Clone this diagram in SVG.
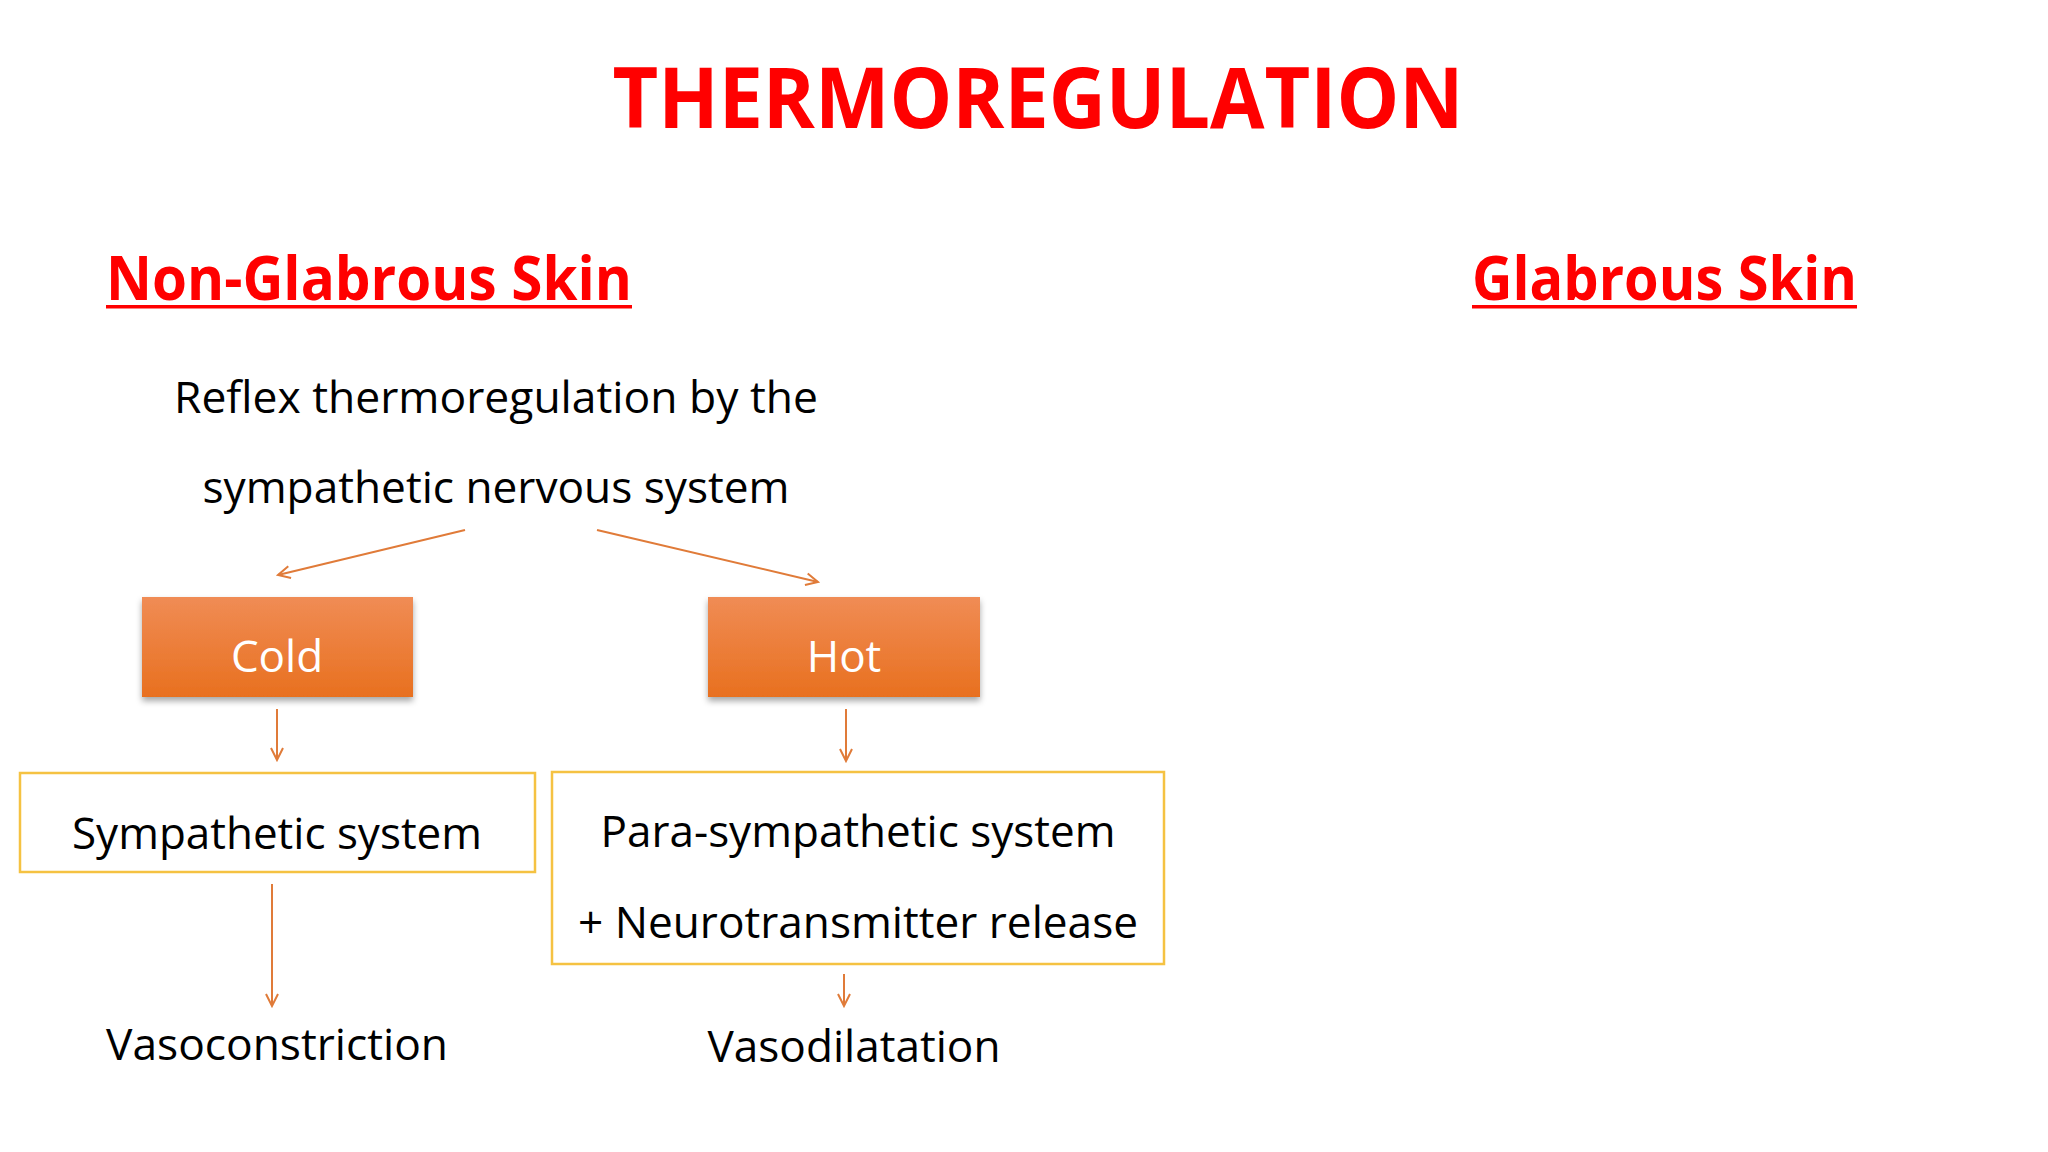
<svg xmlns="http://www.w3.org/2000/svg" width="2048" height="1152" viewBox="0 0 2048 1152">
<defs>
<linearGradient id="og" x1="0" y1="0" x2="0" y2="1"><stop offset="0" stop-color="#F08C55"/><stop offset="1" stop-color="#E8701F"/></linearGradient>
<filter id="sh" x="-10%" y="-10%" width="120%" height="130%"><feDropShadow dx="0" dy="4" stdDeviation="3" flood-color="#000" flood-opacity="0.35"/></filter>
<marker id="ah" markerWidth="16" markerHeight="16" refX="14" refY="8" orient="auto" markerUnits="userSpaceOnUse"><path d="M2,2 L14,8 L2,14" fill="none" stroke="#E07B39" stroke-width="2"/></marker>
</defs>
<style>
text{font-family:"Open Sans","Liberation Sans",sans-serif}
.h{fill:#FF0000;font-weight:bold}
.t{fill:#000;font-size:44px;text-anchor:middle}
.w{fill:#fff;font-size:44px;text-anchor:middle}
.c{stroke:#E07B39;stroke-width:2;fill:none;marker-end:url(#ah)}
.yb{fill:#fff;stroke:#F5C242;stroke-width:2.5}
</style>
<rect width="2048" height="1152" fill="#fff"/>
<g id="title"><text class="h" x="1038" y="128" font-size="84" text-anchor="middle" textLength="851" lengthAdjust="spacingAndGlyphs">THERMOREGULATION</text></g>
<g id="nonglabrous"><text class="h" x="106" y="300" font-size="60" textLength="526" lengthAdjust="spacingAndGlyphs">Non-Glabrous Skin</text><rect x="106" y="305" width="526" height="3.5" fill="#FF0000"/></g>
<g id="glabrous"><text class="h" x="1472" y="300" font-size="60" textLength="385" lengthAdjust="spacingAndGlyphs">Glabrous Skin</text><rect x="1472" y="305" width="385" height="3.5" fill="#FF0000"/></g>
<g id="reflex"><text class="t" x="496" y="413" textLength="644" lengthAdjust="spacingAndGlyphs">Reflex thermoregulation by the</text><text class="t" x="496" y="503" textLength="587" lengthAdjust="spacingAndGlyphs">sympathetic nervous system</text></g>
<g id="cold"><rect x="142" y="597" width="271" height="100" fill="url(#og)" filter="url(#sh)"/><text class="w" x="277" y="672">Cold</text></g>
<g id="hot"><rect x="708" y="597" width="272" height="100" fill="url(#og)" filter="url(#sh)"/><text class="w" x="844" y="672">Hot</text></g>
<g id="symp"><rect class="yb" x="20" y="773" width="515" height="99"/><text class="t" x="277" y="849" textLength="410" lengthAdjust="spacingAndGlyphs">Sympathetic system</text></g>
<g id="para"><rect class="yb" x="552" y="772" width="612" height="192"/><text class="t" x="858" y="847" textLength="515" lengthAdjust="spacingAndGlyphs">Para-sympathetic system</text><text class="t" x="858" y="938" textLength="560" lengthAdjust="spacingAndGlyphs">+ Neurotransmitter release</text></g>
<g id="vasoc"><text class="t" x="277" y="1060" textLength="342" lengthAdjust="spacingAndGlyphs">Vasoconstriction</text></g>
<g id="vasod"><text class="t" x="854" y="1062" textLength="293" lengthAdjust="spacingAndGlyphs">Vasodilatation</text></g>
<g id="connectors">
<line class="c" x1="465" y1="530" x2="278" y2="575"/>
<line class="c" x1="597" y1="530" x2="818" y2="582"/>
<line class="c" x1="277" y1="709" x2="277" y2="760"/>
<line class="c" x1="846" y1="709" x2="846" y2="761"/>
<line class="c" x1="272" y1="884" x2="272" y2="1006"/>
<line class="c" x1="844" y1="974" x2="844" y2="1006"/>
</g>
</svg>
